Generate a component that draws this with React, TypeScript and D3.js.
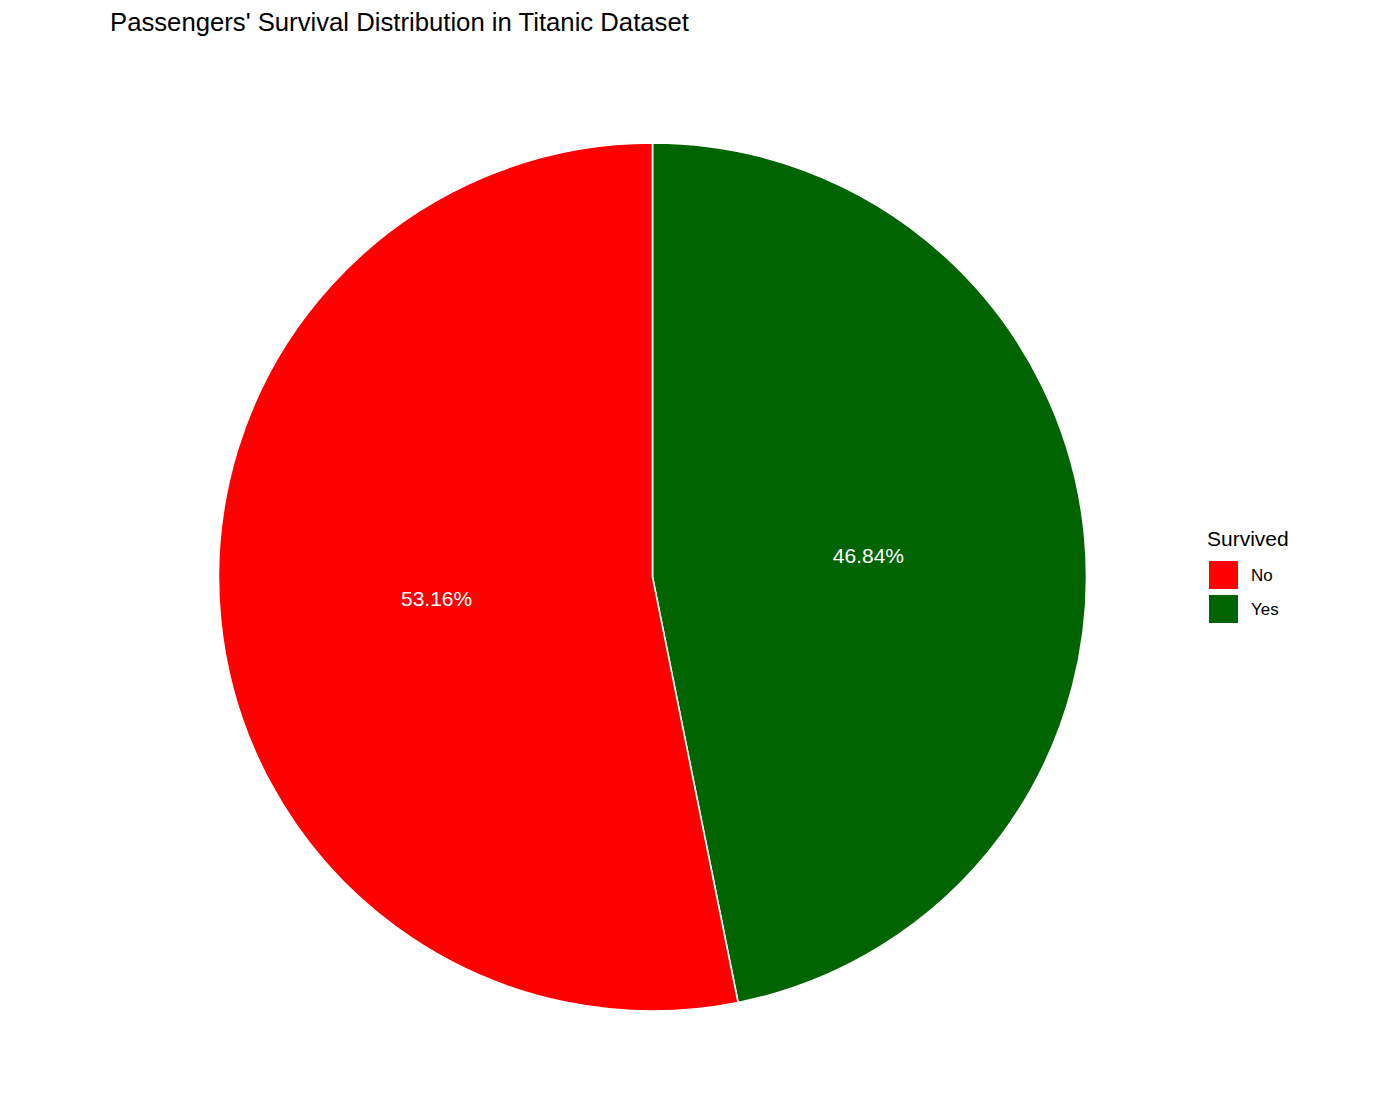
import React from "react";
import * as d3 from "d3";

const categories = ["Yes", "No"];
const percentages = [46.84, 53.16];
const colors = ["#006400", "#FF0000"];
const legendOrder = ["No", "Yes"];
const title = "Passengers' Survival Distribution in Titanic Dataset";
const legendTitle = "Survived";

export default function App() {
  const W = 1400, H = 1120;
  const cx = 652.5, cy = 577, r = 434;
  const data = categories.map((c, i) => ({ c, v: percentages[i], col: colors[i] }));
  const pie = d3.pie<any>().sort(null).value((d) => d.v);
  const arcs = pie(data);
  const arc = d3.arc<any>().innerRadius(0).outerRadius(r);
  const labelArc = d3.arc<any>().innerRadius(r / 2).outerRadius(r / 2);
  const font = "Liberation Sans, Arial, Helvetica, sans-serif";
  const colorOf = (c: string) => colors[categories.indexOf(c)];
  return (
    <svg width={W} height={H} style={{ position: "absolute", left: 0, top: 0, background: "#fff" }} fontFamily={font}>
      <rect width={W} height={H} fill="#fff" />
      <text x={110} y={31} fontSize={25.7} fill="#000">{title}</text>
      <g transform={`translate(${cx},${cy})`}>
        {arcs.map((a, i) => (
          <path key={i} d={arc(a) as string} fill={a.data.col} stroke="#fff" strokeWidth={1.6} />
        ))}
        {arcs.map((a, i) => {
          const [x, y] = labelArc.centroid(a);
          return (
            <text key={"t" + i} x={x} y={y} dy="0.36em" textAnchor="middle" fontSize={21} fill="#fff">
              {a.data.v.toFixed(2) + "%"}
            </text>
          );
        })}
      </g>
      <g>
        <text x={1207} y={546} fontSize={21} fill="#000">{legendTitle}</text>
        {legendOrder.map((c, i) => (
          <g key={c} transform={`translate(1208,${560 + i * 34})`}>
            <rect x={0.5} y={0.5} width={30} height={29} fill={colorOf(c)} stroke="#fff" strokeWidth={1} />
            <text x={43} y={21} fontSize={17} fill="#000">{c}</text>
          </g>
        ))}
      </g>
    </svg>
  );
}
